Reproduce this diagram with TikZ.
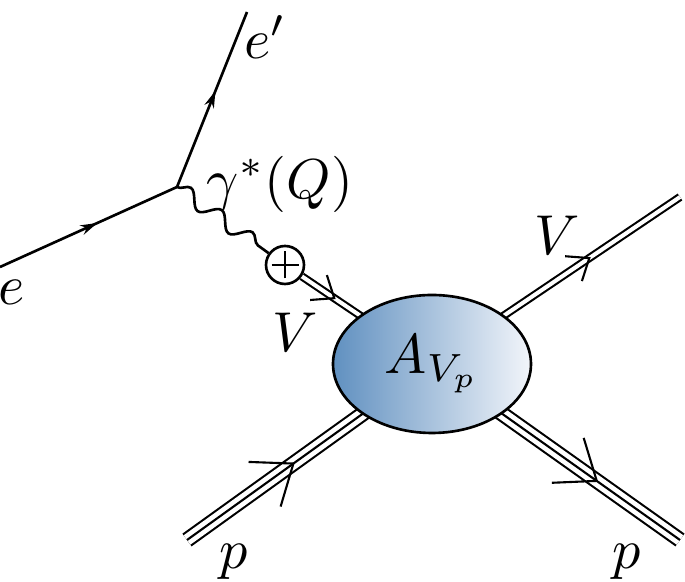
\documentclass[tikz,border=0pt]{standalone}
\usetikzlibrary{arrows.meta,shapes.geometric,decorations.pathmorphing,decorations.markings,backgrounds}
\definecolor{blobdark}{RGB}{96,144,192}
\definecolor{bloblight}{RGB}{242,245,250}

\begin{document}
\begin{tikzpicture}[line width=1.5pt,
    lbl/.style={scale=3.2, inner sep=0pt},
    fermion/.style={decoration={markings, mark=at position 0.55 with {\arrow{Stealth[length=0.34cm,width=0.2cm]}}}, postaction={decorate}},
    photon/.style={decorate, decoration={snake, segment length=0.76cm, amplitude=0.15cm}},
    meson/.style={double distance=0.08cm, line width=1.2pt},
    proton/.style={double distance=0.23cm, line width=1.2pt},
    barb/.style={decoration={markings, mark=at position #1 with {\arrow{Straight Barb[length=0.38cm,width=0.6cm,line width=1.2pt]}}}, postaction={decorate}},
    bigbarb/.style={decoration={markings, mark=at position #1 with {\arrow{Straight Barb[length=0.71cm,width=1.1cm,line width=1.2pt]}}}, postaction={decorate}}]
  \useasboundingbox (0,0) rectangle (13.7,11.64);

  % electron vertex
  \coordinate (ein) at (0,6.3);
  \coordinate (vtx) at (3.54,7.9);
  \coordinate (eout) at (4.94,11.4);
  \node[draw, circle, minimum size=0.76cm, inner sep=0pt] (vx) at (5.7,6.34) {};

  % blob and outer legs
  \node[draw, ellipse, minimum width=3.96cm, minimum height=2.76cm,
        left color=blobdark, right color=bloblight] (blob) at (8.64,4.36) {};
  \node[lbl] (lamp) at (blob.center) {$A_{V_p}$};
  \coordinate (vout) at (13.6,7.7);
  \coordinate (pout) at (13.6,0.84);
  \coordinate (pin) at (3.74,0.84);

  \draw[fermion] (ein) -- (vtx);
  \draw[fermion] (vtx) -- (eout);
  \draw[photon] (vtx) -- (vx);
  \draw ([xshift=-0.27cm]vx.center) -- ([xshift=0.27cm]vx.center)
        ([yshift=-0.27cm]vx.center) -- ([yshift=0.27cm]vx.center);

  \begin{scope}[on background layer]
    \draw[meson] (vx) -- (blob.center);
    \draw[meson] (blob.center) -- (vout);
    \draw[proton] (pin) -- (blob.center);
    \draw[line width=1.2pt] (pin) -- (blob.center);
    \draw[proton] (blob.center) -- (pout);
    \draw[line width=1.2pt] (blob.center) -- (pout);
  \end{scope}
  \path[barb=0.26] (vx) -- (blob.center);
  \path[barb=0.64] (blob.center) -- (vout);
  \path[bigbarb=0.44] (pin) -- (blob.center);
  \path[bigbarb=0.67] (blob.center) -- (pout);

  % labels
  \node[lbl] (le) at (0.24,5.8) {$e$};
  \node[lbl] (leout) at (5.3,10.9) {$e'$};
  \node[lbl] (lgam) at (5.6,7.96) {$\gamma^*(Q)$};
  \node[lbl] (lvin) at (5.9,5.0) {$V$};
  \node[lbl] (lvout) at (11.14,6.94) {$V$};
  \node[lbl] (lpin) at (4.68,0.4) {$p$};
  \node[lbl] (lpout) at (12.54,0.4) {$p$};
\end{tikzpicture}
\end{document}
